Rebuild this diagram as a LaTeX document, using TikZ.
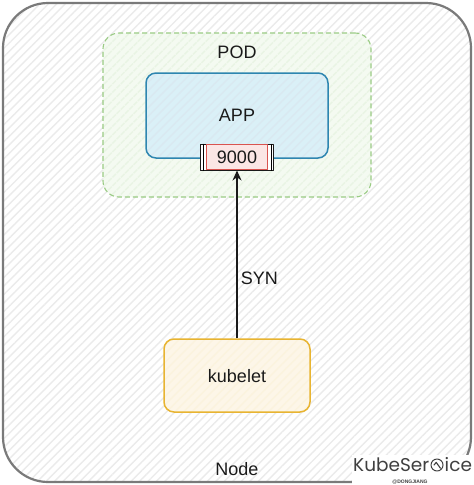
\documentclass[tikz,border=0pt]{standalone}
\usepackage{fontspec}
\setmainfont{Liberation Sans}
\newfontfamily\markfont{Poppins}
\usetikzlibrary{arrows.meta,patterns.meta,positioning}

\definecolor{nodegray}{HTML}{7A7A7A}
\definecolor{podgreen}{HTML}{9ACB84}
\definecolor{podfill}{HTML}{F4FAF1}
\definecolor{appblue}{HTML}{2E86B0}
\definecolor{appfill}{HTML}{DAF0F7}
\definecolor{portred}{HTML}{D9534F}
\definecolor{portfill}{HTML}{FBE6E5}
\definecolor{kubeorange}{HTML}{E8B431}
\definecolor{kubefill}{HTML}{FDF6E8}
\definecolor{inkblack}{HTML}{1A1A1A}

\begin{document}
\begin{tikzpicture}[x=1pt,y=-1pt,line join=round,
  txt/.style={font=\fontsize{18}{20}\selectfont,text=inkblack},
  hatch/.style 2 args={preaction={fill=#1},
    preaction={pattern={Lines[angle=45,distance=6pt,line width=1.4pt]},pattern color=#2}},
  nodebox/.style={draw=nodegray,line width=2.2pt,hatch={white}{black!8},
    rounded corners=45pt,minimum width=468pt,minimum height=479pt},
  podbox/.style={draw=podgreen,line width=1.1pt,dash pattern=on 5pt off 3pt,
    hatch={podfill}{podgreen!22},rounded corners=16pt,minimum width=268pt,minimum height=164pt},
  appbox/.style={draw=appblue,line width=1.5pt,hatch={appfill}{appblue!18},
    rounded corners=10pt,minimum width=182pt,minimum height=85pt},
  portframe/.style={draw=inkblack,line width=1pt,fill=white,minimum width=73pt,minimum height=26pt},
  portnum/.style={txt,draw=portred,line width=0.9pt,fill=portfill,minimum width=61pt,minimum height=25pt},
  kubebox/.style={draw=kubeorange,line width=1.5pt,hatch={kubefill}{kubeorange!16},
    rounded corners=10pt,minimum width=146pt,minimum height=73pt},
  markbox/.style={inner sep=0pt,text=black!75}]
  \useasboundingbox (0,0) rectangle (474,485);
  \node[nodebox] (node) at (237,242.5) {};
  \node[txt] (nodename) at (237,469) {Node};
  \node[podbox] (pod) at (237,115) {};
  \node[txt] (podname) at (237,52) {POD};
  \node[appbox] (app) at (237,115.5) {};
  \node[txt] (appname) at (237,115) {APP};
  \node[portframe] (port) at (237,157) {};
  \draw[line width=0.8pt] ([xshift=3pt]port.north west) -- ([xshift=3pt]port.south west);
  \draw[line width=0.8pt] ([xshift=-3pt]port.north east) -- ([xshift=-3pt]port.south east);
  \node[portnum] (portno) at (port) {9000};
  \node[kubebox] (kubelet) at (237,375.5) {};
  \node[txt] (kubename) at (237,376) {kubelet};
  \draw[line width=1.3pt,inkblack,-{Stealth[length=10pt,width=9pt]}] (kubelet.north) -- (port.south)
    node[txt,pos=0.36,right] (syn) {SYN};
  % watermark
  \fill[white] (352,455) rectangle (474,485);
  \node[markbox,font=\markfont\fontsize{18.5}{19}\selectfont,anchor=west] (markleft) at (353,465) {KubeSer};
  \node[markbox,draw=black!75,line width=1pt,circle,minimum size=12pt,right=1pt of markleft] (markcheck) {};
  \draw[black!75,line width=1.1pt,line cap=round] ([shift={(-3pt,0pt)}]markcheck.center)
    -- ([shift={(-0.8pt,2.6pt)}]markcheck.center) -- ([shift={(3.4pt,-3.2pt)}]markcheck.center);
  \node[markbox,font=\markfont\fontsize{18.5}{19}\selectfont,right=1pt of markcheck] (markright) {ice};
  \node[markbox,font=\bfseries\fontsize{5}{5}\selectfont] (markname) at (410,482) {@DONGJIANG};
\end{tikzpicture}
\end{document}
